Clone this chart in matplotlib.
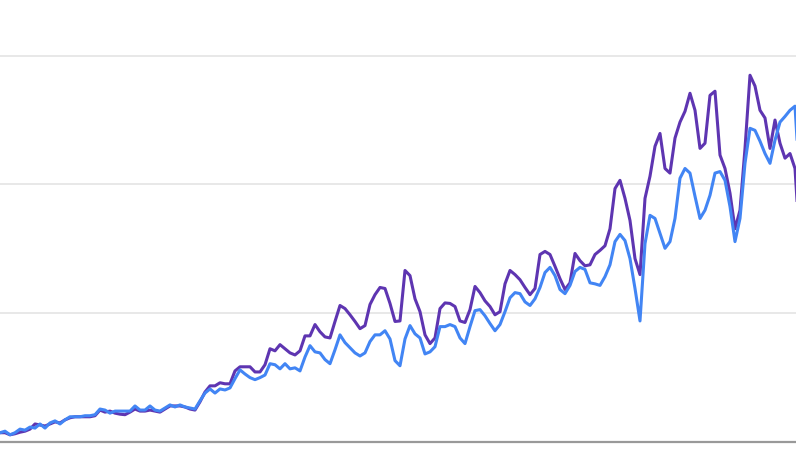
import numpy as np
import matplotlib.pyplot as plt

# monthly index values (gridlines at 25 / 50 / 75)
blue_vals = [
    1.8, 2.1, 1.4, 1.8, 2.5, 2.3, 2.9, 2.7, 3.5, 2.7,
    3.7, 4.1, 3.5, 4.3, 4.9, 4.9, 4.9, 5.1, 5.1, 5.3,
    6.4, 6.2, 5.6, 6.0, 6.0, 6.0, 6.0, 7.0, 6.2, 6.2,
    7.0, 6.2, 6.0, 6.6, 7.2, 6.8, 7.2, 6.8, 6.6, 6.4,
    8.0, 9.5, 10.3, 9.5, 10.3, 10.1, 10.5, 12.3, 14.0, 13.2,
    12.5, 12.1, 12.5, 13.0, 15.2, 15.0, 14.2, 15.2, 14.2, 14.4,
    13.8, 16.5, 18.7, 17.5, 17.3, 16.0, 15.2, 17.9, 20.8, 19.3,
    18.3, 17.3, 16.7, 17.3, 19.5, 20.8, 20.8, 21.6, 20.0, 15.8,
    14.8, 20.0, 22.6, 21.0, 20.2, 17.1, 17.5, 18.5, 22.4, 22.4,
    22.8, 22.4, 20.2, 19.1, 22.4, 25.5, 25.7, 24.5, 23.0, 21.6,
    22.8, 25.3, 28.0, 29.0, 28.8, 27.2, 26.5, 27.8, 30.0, 32.9,
    33.9, 32.3, 29.6, 28.8, 30.4, 33.1, 33.9, 33.5, 30.9, 30.7,
    30.4, 32.1, 34.4, 38.9, 40.3, 39.1, 35.6, 29.8, 23.5, 38.5,
    44.0, 43.4, 40.5, 37.6, 38.9, 43.4, 51.2, 53.1, 52.2, 47.7,
    43.4, 45.0, 47.9, 52.2, 52.5, 50.8, 45.7, 38.9, 43.4, 54.1,
    60.9, 60.5, 58.4, 56.0, 54.1, 58.6, 62.1, 63.2, 64.4, 65.2,
    49.2,
]

purple_vals = [
    1.8, 1.8, 1.4, 1.6, 1.9, 2.1, 2.5, 3.5, 3.3, 3.1,
    3.5, 3.9, 3.7, 4.3, 4.7, 4.9, 4.9, 4.9, 4.9, 5.1,
    6.2, 5.8, 6.0, 5.6, 5.4, 5.3, 5.8, 6.4, 6.0, 6.0,
    6.2, 6.0, 5.8, 6.4, 7.0, 7.0, 7.0, 6.8, 6.4, 6.2,
    7.8, 9.7, 10.9, 10.9, 11.5, 11.3, 11.3, 13.8, 14.6, 14.6,
    14.6, 13.6, 13.6, 15.0, 18.1, 17.7, 18.9, 18.1, 17.3, 16.9,
    17.7, 20.6, 20.6, 22.8, 21.4, 20.4, 20.2, 23.4, 26.5, 25.9,
    24.7, 23.4, 22.0, 22.6, 26.7, 28.6, 30.0, 29.8, 26.9, 23.4,
    23.5, 33.3, 32.3, 27.8, 25.3, 20.8, 19.1, 20.2, 25.9, 27.0,
    26.9, 26.3, 23.5, 23.2, 25.7, 30.2, 29.0, 27.4, 26.3, 24.7,
    25.3, 30.7, 33.3, 32.5, 31.5, 30.0, 28.6, 29.8, 36.4, 37.0,
    36.4, 34.1, 31.7, 29.6, 30.9, 36.6, 35.2, 34.2, 34.4, 36.4,
    37.2, 38.1, 41.4, 49.2, 50.8, 47.3, 43.0, 35.6, 32.5, 47.3,
    51.6, 57.4, 59.9, 53.1, 52.2, 59.0, 62.1, 64.2, 67.7, 64.4,
    57.0, 58.0, 67.3, 68.1, 55.7, 53.1, 48.3, 41.4, 45.0, 57.0,
    71.2, 69.1, 64.4, 62.9, 57.0, 62.5, 58.0, 55.1, 56.0, 53.1,
    37.6,
]

grid_levels = [25, 50, 75]

BLUE = '#4285f4'
PURPLE = '#5e35b1'

months = np.arange(len(blue_vals))

fig = plt.figure(figsize=(7.96, 4.64), dpi=100)
ax = fig.add_axes([0, 21 / 464, 1, 1 - 21 / 464])

for g in grid_levels:
    ax.axhline(g, color='#e6e6e6', lw=1.3, zorder=0)
ax.axhline(0, color='#999999', lw=1.6, zorder=1, clip_on=False)

ax.plot(months, purple_vals, color=PURPLE, lw=2.2, zorder=2,
        solid_joinstyle='round')
ax.plot(months, blue_vals, color=BLUE, lw=2.2, zorder=3,
        solid_joinstyle='round')

ax.set_xlim(0, 159.2)
ax.set_ylim(0, 86.0)
ax.axis('off')

fig.savefig('out.png', dpi=100, facecolor='white')
